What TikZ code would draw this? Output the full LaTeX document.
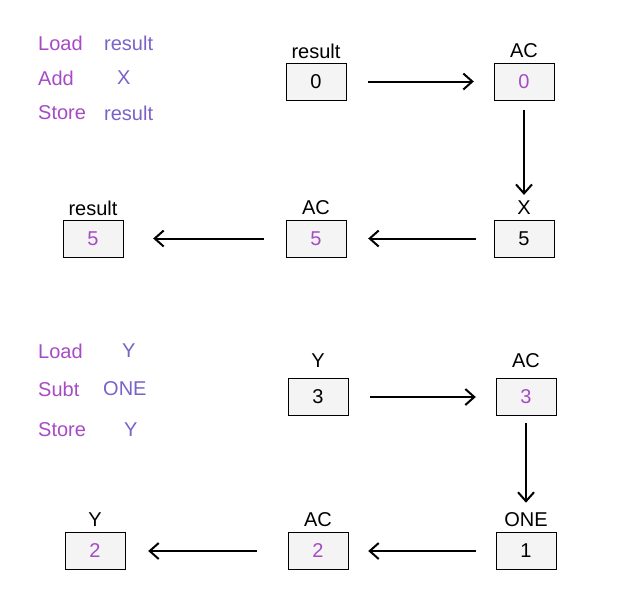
\documentclass[tikz,border=0pt]{standalone}
\usepackage{fontspec}
\setmainfont{Liberation Sans}
\usetikzlibrary{arrows.meta}
\definecolor{op}{HTML}{A64BC4}
\definecolor{arg}{HTML}{7A62C8}
\definecolor{boxfill}{HTML}{F4F4F4}
\begin{document}
\begin{tikzpicture}[x=1pt,y=-1pt,
  box/.style={draw=black,fill=boxfill,minimum width=60pt,minimum height=37pt,inner sep=0pt,font=\fontsize{20}{24}\selectfont},
  lab/.style={font=\fontsize{20}{24}\selectfont,inner sep=0pt},
  cmd/.style={font=\fontsize{20}{24}\selectfont,inner sep=0pt,anchor=west},
  arr/.style={-{Straight Barb[length=9pt,width=16pt]},line width=2pt}]
\useasboundingbox (0,0) rectangle (620,600);
% program 1
\node[cmd,text=op] (l1) at (38,43) {Load};
\node[cmd,text=arg] (l1a) at (104,43) {result};
\node[cmd,text=op] (l2) at (38,78) {Add};
\node[cmd,text=arg] (l2a) at (117,78) {X};
\node[cmd,text=op] (l3) at (38,113) {Store};
\node[cmd,text=arg] (l3a) at (104,113) {result};
% boxes top
\node[box] (b1) at (316,81.5) {0};
\node[lab] (t1) at (316,51) {result};
\node[box,text=op] (b2) at (524,81.5) {0};
\node[lab] (t2) at (524,51) {AC};
\node[box] (b3) at (524,238.5) {5};
\node[lab] (t3) at (524,208) {X};
\node[box,text=op] (b4) at (316,238.5) {5};
\node[lab] (t4) at (316,208) {AC};
\node[box,text=op] (b5) at (93,238.5) {5};
\node[lab] (t5) at (93,208) {result};
\draw[arr] ([xshift=22pt]b1.east) -- ([xshift=-20pt]b2.west);
\draw[arr] ([yshift=-10pt]b2.south) -- ([yshift=6pt]t3.north);
\draw[arr] ([xshift=-18pt]b3.west) -- ([xshift=22pt]b4.east);
\draw[arr] ([xshift=-22pt]b4.west) -- ([xshift=30pt]b5.east);
% program 2
\node[cmd,text=op] (m1) at (38,351) {Load};
\node[cmd,text=arg] (m1a) at (122,351) {Y};
\node[cmd,text=op] (m2) at (38,389) {Subt};
\node[cmd,text=arg] (m2a) at (103,389) {ONE};
\node[cmd,text=op] (m3) at (38,430) {Store};
\node[cmd,text=arg] (m3a) at (124,430) {Y};
\node[box] (c1) at (318,397) {3};
\node[lab] (u1) at (318,361) {Y};
\node[box,text=op] (c2) at (526,397) {3};
\node[lab] (u2) at (526,361) {AC};
\node[box] (c3) at (526,551) {1};
\node[lab] (u3) at (526,520) {ONE};
\node[box,text=op] (c4) at (318,551) {2};
\node[lab] (u4) at (318,520) {AC};
\node[box,text=op] (c5) at (95,551) {2};
\node[lab] (u5) at (95,520) {Y};
\draw[arr] ([xshift=22pt]c1.east) -- ([xshift=-20pt]c2.west);
\draw[arr] ([yshift=-7pt]c2.south) -- ([yshift=10pt]u3.north);
\draw[arr] ([xshift=-20pt]c3.west) -- ([xshift=20pt]c4.east);
\draw[arr] ([xshift=-31pt]c4.west) -- ([xshift=23pt]c5.east);
\end{tikzpicture}
\end{document}
